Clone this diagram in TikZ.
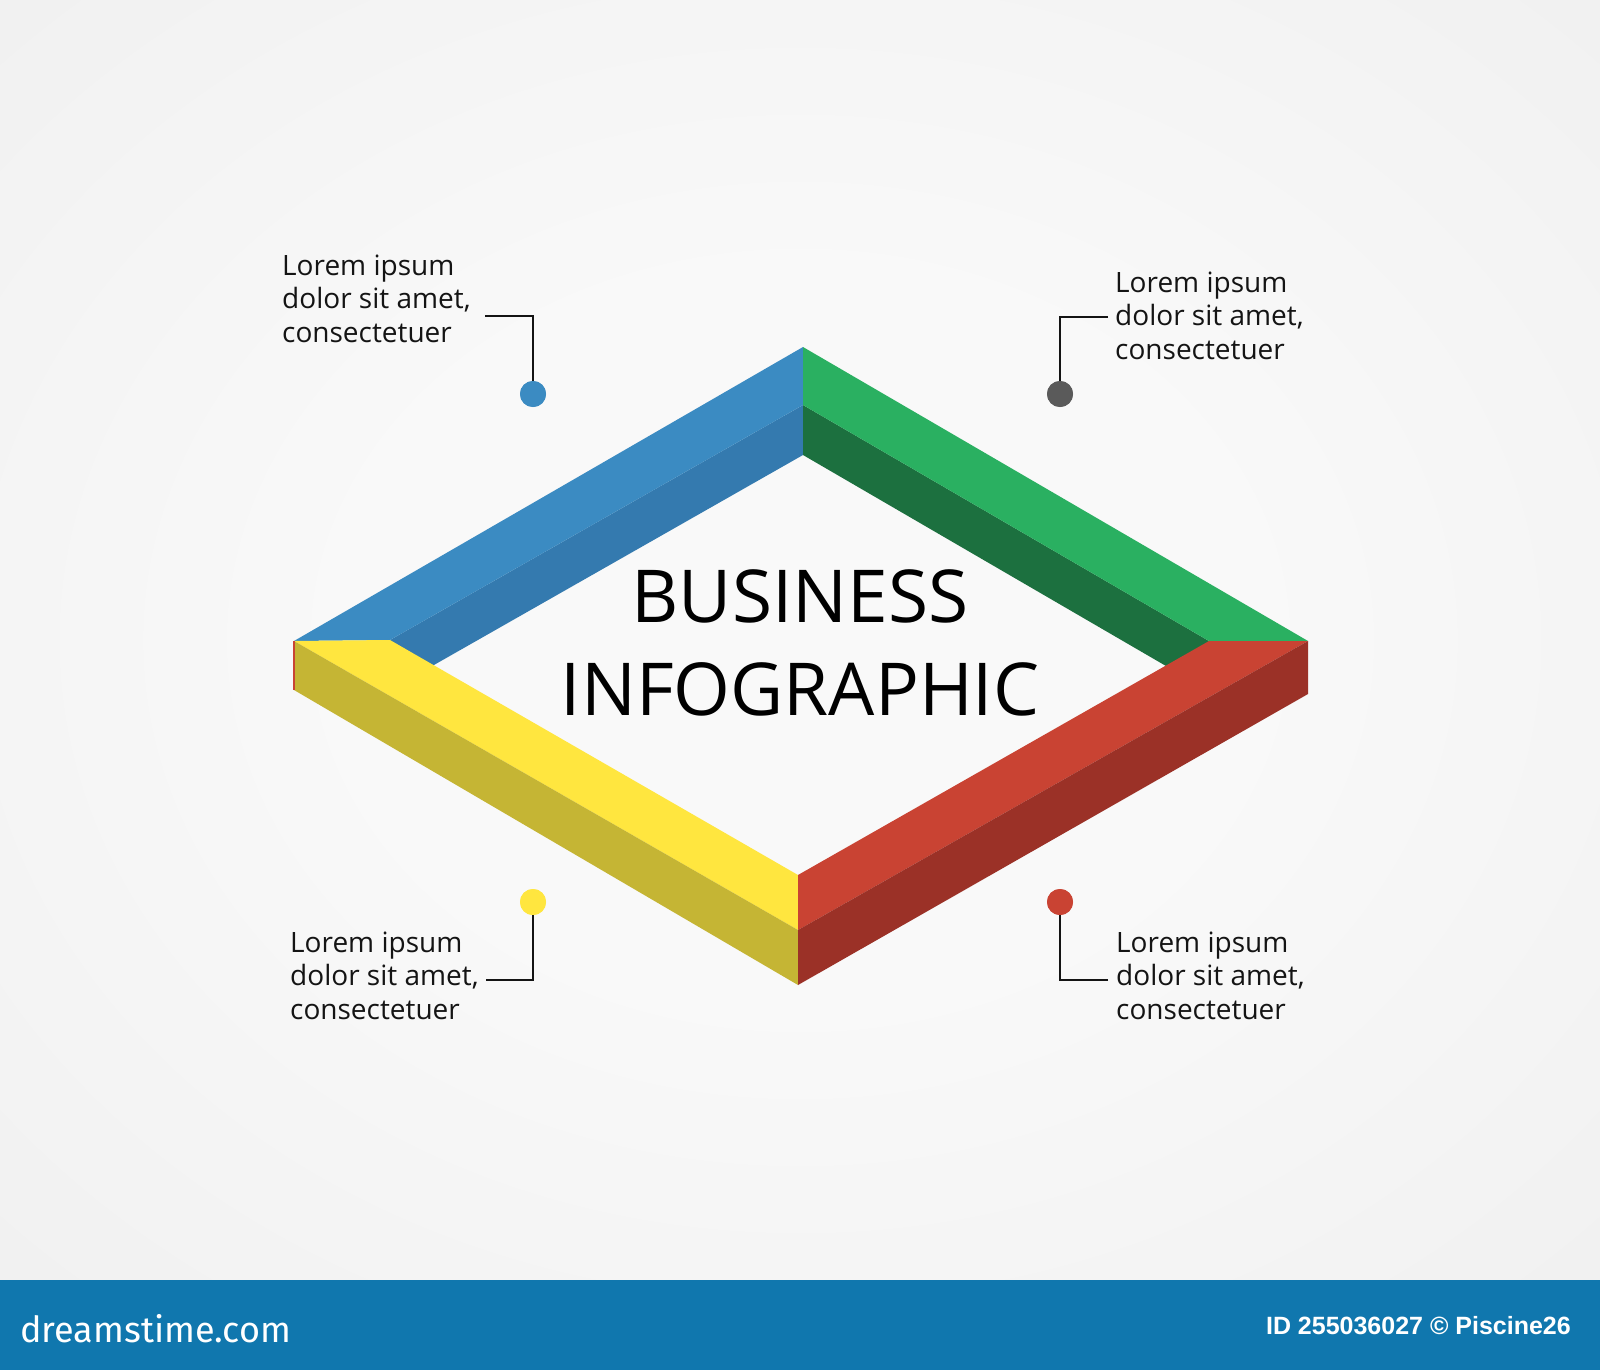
\documentclass[tikz,border=0pt]{standalone}
\usepackage{fontspec}
\setmainfont{Open Sans}
\newfontfamily\barfont{Liberation Sans}
\newfontfamily\logofont{Fira Sans}
\definecolor{bgin}{RGB}{249,249,249}
\definecolor{bgmid}{RGB}{236,236,236}
\definecolor{bgout}{RGB}{222,222,222}
\definecolor{barblue}{RGB}{16,119,174}
\definecolor{bluetop}{RGB}{59,139,194}
\definecolor{bluewall}{RGB}{52,122,175}
\definecolor{greentop}{RGB}{42,176,97}
\definecolor{greenwall}{RGB}{28,112,63}
\definecolor{yellowtop}{RGB}{255,230,63}
\definecolor{yellowside}{RGB}{197,181,52}
\definecolor{redtop}{RGB}{201,67,51}
\definecolor{redside}{RGB}{155,49,39}
\definecolor{dotgray}{RGB}{90,90,90}
\definecolor{inkblack}{RGB}{20,20,20}
\pgfdeclareradialshading{bgshade}{\pgfpoint{0bp}{0bp}}{color(0bp)=(bgin); color(14bp)=(bgin); color(48bp)=(bgmid); color(72bp)=(bgout)}
\tikzset{
  dotnode/.style={circle, inner sep=0pt, minimum size=26pt},
  leader/.style={draw=inkblack, line width=2.6pt},
  lbl/.style={anchor=base west, inner sep=0pt, text=inkblack, font=\fontsize{28}{33.5}\selectfont},
}
\newcommand{\lbltext}{\parbox[t]{260pt}{\raggedright Lorem ipsum\\dolor sit amet,\\consectetuer}}
\begin{document}
\begin{tikzpicture}[x=1pt,y=-1pt]
\useasboundingbox (0,0) rectangle (1600,1370);
% background
\shade[shading=bgshade] (0,0) rectangle (1600,1280);
\fill[barblue] (0,1280) rectangle (1600,1370);

% frame geometry
\coordinate (T) at (803,347);
\coordinate (L) at (294,641);
\coordinate (R) at (1308,641);
\coordinate (B) at (798,930);
\coordinate (Ti) at (803,405);
\coordinate (Li) at (390,640);
\coordinate (Ri) at (1209,641);
\coordinate (Bi) at (798,875);
\coordinate (Lb) at (294,690);
\coordinate (Bb) at (798,985);
\coordinate (Rb) at (1308,694);
\coordinate (Tw) at (803,455);
\coordinate (Lw) at (390,690);
\coordinate (Rw) at (1209,691);

% inner walls
\fill[bluewall] (Ti) -- (Li) -- (Lw) -- (Tw) -- cycle;
\fill[greenwall] (Ti) -- (Ri) -- (Rw) -- (Tw) -- cycle;
% top faces
\fill[bluetop] (T) -- (L) -- (Li) -- (Ti) -- cycle;
\fill[greentop] (T) -- (R) -- (Ri) -- (Ti) -- cycle;
\fill[yellowtop] (L) -- (Li) -- (Bi) -- (B) -- cycle;
\fill[redtop] (R) -- (Ri) -- (Bi) -- (B) -- cycle;
% outer sides
\fill[yellowside] (L) -- (B) -- (Bb) -- (Lb) -- cycle;
\fill[redside] (B) -- (R) -- (Rb) -- (Bb) -- cycle;
\draw[redtop, line width=1.2pt] (L) -- (Lb);

% title
\node[anchor=base, inner sep=0pt, text=black, font=\fontsize{73}{93}\selectfont] (title) at (800,622)
  {\parbox[t]{700pt}{\centering BUSINESS\\INFOGRAPHIC}};

% dots
\node[dotnode, fill=bluetop] (d1) at (533,394) {};
\node[dotnode, fill=dotgray] (d2) at (1060,394) {};
\node[dotnode, fill=yellowtop] (d3) at (533,902) {};
\node[dotnode, fill=redtop] (d4) at (1060,902) {};

% labels
\node[lbl] (t1) at (282,275) {\lbltext};
\node[lbl] (t2) at (1115,292) {\lbltext};
\node[lbl] (t3) at (290,952) {\lbltext};
\node[lbl] (t4) at (1116,952) {\lbltext};

% leader lines
\coordinate (a1) at (485,316);
\coordinate (e1) at (533,316);
\coordinate (a2) at (1108,317);
\coordinate (e2) at (1060,317);
\coordinate (a3) at (486,980);
\coordinate (e3) at (533,980);
\coordinate (a4) at (1108,980);
\coordinate (e4) at (1060,980);
\draw[leader] (a1) -- (e1) -- (d1.center);
\draw[leader] (a2) -- (e2) -- (d2.center);
\draw[leader] (a3) -- (e3) -- (d3.center);
\draw[leader] (a4) -- (e4) -- (d4.center);
% redraw dots on top of leaders
\fill[bluetop] (d1) circle (13pt);
\fill[dotgray] (d2) circle (13pt);
\fill[yellowtop] (d3) circle (13pt);
\fill[redtop] (d4) circle (13pt);

% bottom bar texts
\node[anchor=base west, inner sep=0pt, text=white, font=\logofont\fontsize{36}{36}\selectfont] (logo) at (20,1342) {dreamstime.com};
\node[anchor=base east, inner sep=0pt, text=white, font=\barfont\bfseries\fontsize{25}{25}\selectfont] (idtext) at (1571,1334) {ID 255036027 © Piscine26};
\end{tikzpicture}
\end{document}
